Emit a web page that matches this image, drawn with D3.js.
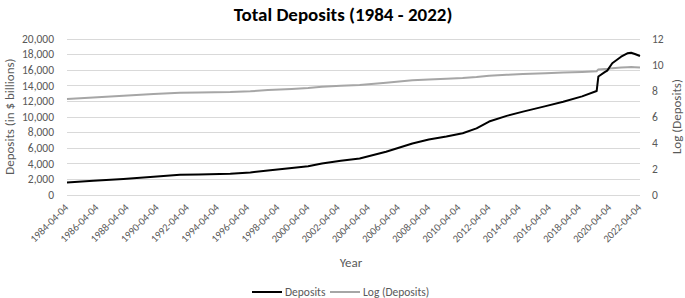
<!DOCTYPE html>
<html>
<head>
<meta charset="utf-8">
<script src="https://cdn.jsdelivr.net/npm/d3@7"></script>
<style>
  body { margin: 0; background: #fff; }
  text { font-family: Carlito, "Liberation Sans Narrow", "Open Sans", sans-serif; }
</style>
</head>
<body>
<script>
// data
const dates = [
    '1984-04-04', '1986-01-01', '1988-01-01', '1990-01-01', '1991-10-01', '1993-01-01',
    '1995-02-01', '1996-06-01', '1997-08-01', '1999-03-01', '2000-04-01', '2001-03-01',
    '2002-06-01', '2003-09-01', '2005-06-01', '2007-03-01', '2008-04-01', '2009-06-01',
    '2010-07-01', '2011-06-01', '2012-04-01', '2013-06-01', '2014-07-01', '2016-01-01',
    '2017-03-01', '2018-06-01', '2019-05-20', '2019-07-01', '2019-12-01', '2020-02-01',
    '2020-06-01', '2021-01-01', '2021-06-01', '2021-09-01', '2021-12-01', '2022-04-04'
]
const deposits = [
    1570, 1780, 2020, 2300, 2550, 2600,
    2680, 2850, 3100, 3410, 3650, 4000,
    4340, 4650, 5500, 6560, 7070, 7450,
    7870, 8500, 9370, 10100, 10640, 11350,
    11910, 12600, 13280, 15150, 15700, 15900,
    16840, 17680, 18120, 18190, 18030, 17770
]
const logDeposits = [
    7.36, 7.48, 7.61, 7.74, 7.84, 7.86,
    7.89, 7.95, 8.04, 8.13, 8.20, 8.29,
    8.38, 8.44, 8.61, 8.79, 8.86, 8.92,
    8.97, 9.05, 9.15, 9.22, 9.27, 9.34,
    9.39, 9.44, 9.49, 9.63, 9.66, 9.67,
    9.73, 9.78, 9.80, 9.81, 9.80, 9.78
]
const leftTicks = [0, 2000, 4000, 6000, 8000, 10000, 12000, 14000, 16000, 18000, 20000]
const rightTicks = [0, 2, 4, 6, 8, 10, 12]
const tickYears = d3.range(1984, 2023, 2)

const width = 685
const height = 298
const margin = {left: 67, right: 45, top: 38.6, bottom: 103.3}
const textColor = '#595959'

const parse = d3.timeParse('%Y-%m-%d')
const data = dates.map((d, i) => ({date: parse(d), dep: deposits[i], log: logDeposits[i]}))

let svg = d3.select('body').append('svg')
    .attr('width', width)
    .attr('height', height)

// scales
const x = d3.scaleTime()
    .domain([parse('1984-04-04'), parse('2022-04-04')])
    .range([margin.left, width - margin.right])

const yLeft = d3.scaleLinear()
    .domain([0, 20000])
    .range([height - margin.bottom, margin.top])

const yRight = d3.scaleLinear()
    .domain([0, 12])
    .range([height - margin.bottom, margin.top])

// gridlines
svg.append('g')
    .selectAll('line')
    .data(leftTicks)
    .join('line')
    .attr('x1', margin.left)
    .attr('x2', width - margin.right)
    .attr('y1', d => Math.round(yLeft(d)) + 0.5)
    .attr('y2', d => Math.round(yLeft(d)) + 0.5)
    .attr('stroke', '#d9d9d9')
    .attr('stroke-width', 1)

// axes
const leftAxis = d3.axisLeft(yLeft)
    .tickValues(leftTicks)
    .tickSize(0)
    .tickPadding(13)
    .tickFormat(d3.format(','))
let gl = svg.append('g')
    .attr('transform', `translate(${margin.left},0)`)
    .call(leftAxis)
gl.select('.domain').remove()
gl.selectAll('text').attr('fill', textColor).attr('font-size', 11.5)

const rightAxis = d3.axisRight(yRight)
    .tickValues(rightTicks)
    .tickSize(0)
    .tickPadding(12)
let gr = svg.append('g')
    .attr('transform', `translate(${width - margin.right},0)`)
    .call(rightAxis)
gr.select('.domain').remove()
gr.selectAll('text').attr('fill', textColor).attr('font-size', 11.5)

// x axis labels, rotated
const xAxis = d3.axisBottom(x)
    .tickValues(tickYears.map(y => parse(`${y}-04-04`)))
    .tickSize(0)
    .tickFormat(d3.timeFormat('%Y-%m-%d'))
let gx = svg.append('g')
    .attr('transform', `translate(0,${height - margin.bottom})`)
    .call(xAxis)
gx.select('.domain').remove()
gx.selectAll('text')
    .attr('fill', textColor)
    .attr('font-size', 10.5)
    .attr('text-anchor', 'end')
    .attr('dy', '0.35em')
    .attr('y', 0)
    .attr('transform', 'translate(-1,11) rotate(-45)')

// lines
const depLine = d3.line()
    .x(d => x(d.date))
    .y(d => yLeft(d.dep))
const logLine = d3.line()
    .x(d => x(d.date))
    .y(d => yRight(d.log))

svg.append('path')
    .datum(data)
    .attr('fill', 'none')
    .attr('stroke', '#a6a6a6')
    .attr('stroke-width', 2)
    .attr('d', logLine)

svg.append('path')
    .datum(data)
    .attr('fill', 'none')
    .attr('stroke', '#000')
    .attr('stroke-width', 2)
    .attr('stroke-linejoin', 'round')
    .attr('d', depLine)

// titles
svg.append('text')
    .attr('x', 343)
    .attr('y', 21)
    .attr('text-anchor', 'middle')
    .attr('font-size', 19)
    .attr('font-weight', 'bold')
    .attr('fill', '#000')
    .text('Total Deposits (1984 - 2022)')

svg.append('text')
    .attr('x', 351)
    .attr('y', 267)
    .attr('text-anchor', 'middle')
    .attr('font-size', 13)
    .attr('fill', textColor)
    .text('Year')

svg.append('text')
    .attr('transform', `translate(14,${yLeft(10000)}) rotate(-90)`)
    .attr('text-anchor', 'middle')
    .attr('font-size', 13)
    .attr('fill', textColor)
    .text('Deposits (in $ billions)')

svg.append('text')
    .attr('transform', `translate(681,${yLeft(10000)}) rotate(-90)`)
    .attr('text-anchor', 'middle')
    .attr('font-size', 13)
    .attr('fill', textColor)
    .text('Log (Deposits)')

// legend
const legend = [
    {name: 'Deposits', color: '#000', x: 252},
    {name: 'Log (Deposits)', color: '#a6a6a6', x: 330}
]
let lg = svg.append('g')
    .selectAll('g')
    .data(legend)
    .join('g')
    .attr('transform', d => `translate(${d.x},292)`)
lg.append('line')
    .attr('x1', 0)
    .attr('x2', 30)
    .attr('stroke', d => d.color)
    .attr('stroke-width', 2)
lg.append('text')
    .attr('x', 33)
    .attr('dy', '0.35em')
    .attr('font-size', 11.5)
    .attr('fill', textColor)
    .text(d => d.name)
</script>
</body>
</html>
